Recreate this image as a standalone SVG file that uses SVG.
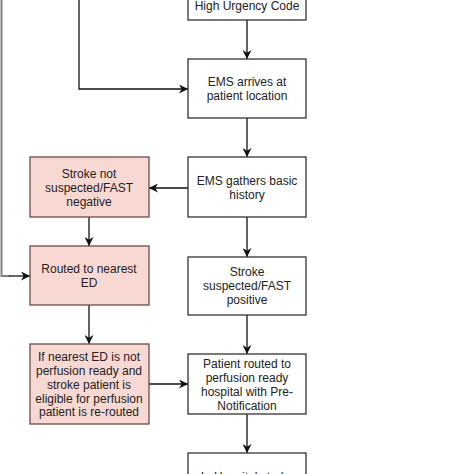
<svg xmlns="http://www.w3.org/2000/svg" width="474" height="474" viewBox="0 0 474 474">
<style>
.box{fill:#fff;stroke:#333;stroke-width:1.3}
.pink{fill:#f8d8d3;stroke:#6e4b48;stroke-width:1.3}
text{font-family:"Liberation Sans",Arial,sans-serif;font-size:12px;fill:#222;text-anchor:middle}
.ln{fill:none;stroke:#111;stroke-width:1.3}
</style>
<defs>
<marker id="ah" viewBox="0 0 10 10" refX="10" refY="5" markerWidth="9" markerHeight="9" markerUnits="userSpaceOnUse" orient="auto"><path d="M0,0 L10,5 L0,10 L3,5 z" fill="#111"/></marker>
</defs>
<rect width="474" height="474" fill="#fff"/>
<g id="connectors">
<path class="ln" d="M247,20 V59" marker-end="url(#ah)"/>
<path class="ln" d="M79,0 V89 H188" marker-end="url(#ah)"/>
<path class="ln" d="M247,118 V157" marker-end="url(#ah)"/>
<path class="ln" d="M188,188 H149" marker-end="url(#ah)"/>
<path class="ln" d="M89,217 V246" marker-end="url(#ah)"/>
<path d="M1.5,0 V276 H10" fill="none" stroke="#808080" stroke-width="2"/>
<path class="ln" d="M9,276 H30" marker-end="url(#ah)"/>
<path class="ln" d="M247,217 V257" marker-end="url(#ah)"/>
<path class="ln" d="M89,305 V344" marker-end="url(#ah)"/>
<path class="ln" d="M247,315 V354" marker-end="url(#ah)"/>
<path class="ln" d="M149,384 H188" marker-end="url(#ah)"/>
<path class="ln" d="M247,414 V453" marker-end="url(#ah)"/>
</g>
<g id="n1"><rect class="box" x="188" y="-20" width="118" height="40"/><text x="247" y="10">High Urgency Code</text></g>
<g id="n2"><rect class="box" x="188" y="59" width="118" height="59"/><text x="247" y="86">EMS arrives at</text><text x="247" y="100">patient location</text></g>
<g id="n3"><rect class="box" x="188" y="157" width="118" height="60"/><text x="247" y="185">EMS gathers basic</text><text x="247" y="199">history</text></g>
<g id="n4"><rect class="pink" x="30" y="157" width="119" height="60"/><text x="89" y="178">Stroke not</text><text x="89" y="192">suspected/FAST</text><text x="89" y="206">negative</text></g>
<g id="n5"><rect class="pink" x="30" y="246" width="119" height="59"/><text x="89" y="273">Routed to nearest</text><text x="89" y="287">ED</text></g>
<g id="n6"><rect class="box" x="188" y="257" width="118" height="58"/><text x="247" y="276">Stroke</text><text x="247" y="290">suspected/FAST</text><text x="247" y="304">positive</text></g>
<g id="n7"><rect class="pink" x="30" y="344" width="119" height="80"/><text x="89" y="361">If nearest ED is not</text><text x="89" y="375">perfusion ready and</text><text x="89" y="389">stroke patient is</text><text x="89" y="403">eligible for perfusion</text><text x="89" y="416">patient is re-routed</text></g>
<g id="n8"><rect class="box" x="188" y="354" width="118" height="60"/><text x="247" y="368">Patient routed to</text><text x="247" y="382">perfusion ready</text><text x="247" y="396">hospital with Pre-</text><text x="247" y="410">Notification</text></g>
<g id="n9"><rect class="box" x="188" y="453" width="118" height="40"/><text x="247" y="481">In Hospital stroke</text></g>
</svg>
